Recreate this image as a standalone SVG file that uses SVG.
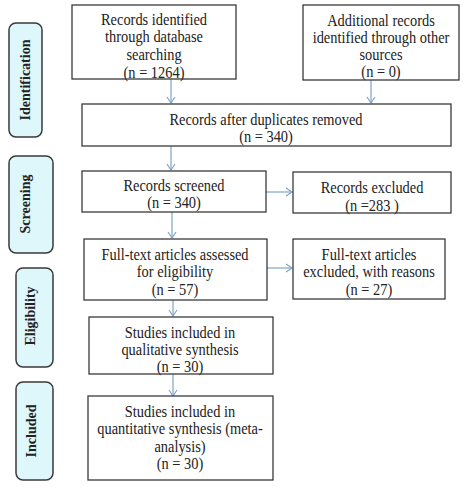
<svg xmlns="http://www.w3.org/2000/svg" width="474" height="493" viewBox="0 0 474 493">
<style>
.box{fill:#fff;stroke:#3a3a3a;stroke-width:1.3}
.side{fill:#def7fa;stroke:#3a3a3a;stroke-width:1.5}
.t{font-family:"Liberation Serif","Times New Roman",serif;font-size:16px;fill:#222;text-anchor:middle}
.s{font-family:"Liberation Serif","Times New Roman",serif;font-size:14px;font-weight:bold;fill:#222;text-anchor:middle}
.c{stroke:#7fa3c8;stroke-width:1.2;fill:none}
</style>
<defs>
<marker id="ah" markerWidth="10" markerHeight="10" refX="8" refY="5" orient="auto" markerUnits="userSpaceOnUse">
<path d="M2,1 L8,5 L2,9" fill="none" stroke="#7fa3c8" stroke-width="1.2"/>
</marker>
</defs>
<g id="side-identification"><rect class="side" x="9" y="23" width="33" height="114" rx="7"/><text class="s" transform="translate(30,80) rotate(-90)">Identification</text></g>
<g id="side-screening"><rect class="side" x="9" y="156" width="44" height="97" rx="7"/><text class="s" transform="translate(30,204) rotate(-90)">Screening</text></g>
<g id="side-eligibility"><rect class="side" x="16" y="268" width="37" height="99" rx="7"/><text class="s" transform="translate(35,316) rotate(-90)">Eligibility</text></g>
<g id="side-included"><rect class="side" x="16" y="382" width="37" height="98" rx="7"/><text class="s" transform="translate(36,431) rotate(-90)">Included</text></g>
<g id="connectors">
<line class="c" x1="171" y1="79" x2="171" y2="103" marker-end="url(#ah)"/>
<line class="c" x1="371" y1="80" x2="371" y2="103" marker-end="url(#ah)"/>
<line class="c" x1="171" y1="146" x2="171" y2="170" marker-end="url(#ah)"/>
<line class="c" x1="266" y1="192" x2="292" y2="192" marker-end="url(#ah)"/>
<line class="c" x1="172" y1="212" x2="172" y2="238" marker-end="url(#ah)"/>
<line class="c" x1="267" y1="268" x2="292" y2="268" marker-end="url(#ah)"/>
<line class="c" x1="173" y1="300" x2="173" y2="316" marker-end="url(#ah)"/>
<line class="c" x1="173" y1="374" x2="173" y2="396" marker-end="url(#ah)"/>
</g>
<g id="n1"><rect class="box" x="72" y="5" width="164" height="74"/>
<text class="t" transform="translate(154,25) scale(0.9,1)">Records identified</text><text class="t" transform="translate(154,42) scale(0.9,1)">through database</text><text class="t" transform="translate(154,60) scale(0.9,1)">searching</text><text class="t" transform="translate(154,78) scale(0.9,1)">(n = 1264)</text></g>
<g id="n2"><rect class="box" x="303" y="5" width="156" height="75"/>
<text class="t" transform="translate(381,26) scale(0.9,1)">Additional records</text><text class="t" transform="translate(381,43) scale(0.9,1)">identified through other</text><text class="t" transform="translate(381,60) scale(0.9,1)">sources</text><text class="t" transform="translate(381,77) scale(0.9,1)">(n = 0)</text></g>
<g id="n3"><rect class="box" x="82" y="104" width="369" height="42"/>
<text class="t" transform="translate(266,125) scale(0.9,1)">Records after duplicates removed</text><text class="t" transform="translate(266,142) scale(0.9,1)">(n = 340)</text></g>
<g id="n4"><rect class="box" x="82" y="171" width="184" height="41"/>
<text class="t" transform="translate(174,191) scale(0.9,1)">Records screened</text><text class="t" transform="translate(174,208) scale(0.9,1)">(n = 340)</text></g>
<g id="n5"><rect class="box" x="293" y="172" width="158" height="41"/>
<text class="t" transform="translate(372,193) scale(0.9,1)">Records excluded</text><text class="t" transform="translate(372,211) scale(0.9,1)">(n =283 )</text></g>
<g id="n6"><rect class="box" x="84" y="239" width="183" height="61"/>
<text class="t" transform="translate(175,260) scale(0.9,1)">Full-text articles assessed</text><text class="t" transform="translate(175,277) scale(0.9,1)">for eligibility</text><text class="t" transform="translate(175,295) scale(0.9,1)">(n = 57)</text></g>
<g id="n7"><rect class="box" x="293" y="239" width="152" height="60"/>
<text class="t" transform="translate(369,260) scale(0.9,1)">Full-text articles</text><text class="t" transform="translate(369,277) scale(0.9,1)">excluded, with reasons</text><text class="t" transform="translate(369,295) scale(0.9,1)">(n = 27)</text></g>
<g id="n8"><rect class="box" x="89" y="317" width="184" height="57"/>
<text class="t" transform="translate(180,338) scale(0.9,1)">Studies included in</text><text class="t" transform="translate(180,355) scale(0.9,1)">qualitative synthesis</text><text class="t" transform="translate(180,372) scale(0.9,1)">(n =  30)</text></g>
<g id="n9"><rect class="box" x="88" y="396" width="185" height="84"/>
<text class="t" transform="translate(180,417) scale(0.9,1)">Studies included in</text><text class="t" transform="translate(180,434) scale(0.9,1)">quantitative synthesis (meta-</text><text class="t" transform="translate(180,452) scale(0.9,1)">analysis)</text><text class="t" transform="translate(180,469) scale(0.9,1)">(n =  30)</text></g>
</svg>
